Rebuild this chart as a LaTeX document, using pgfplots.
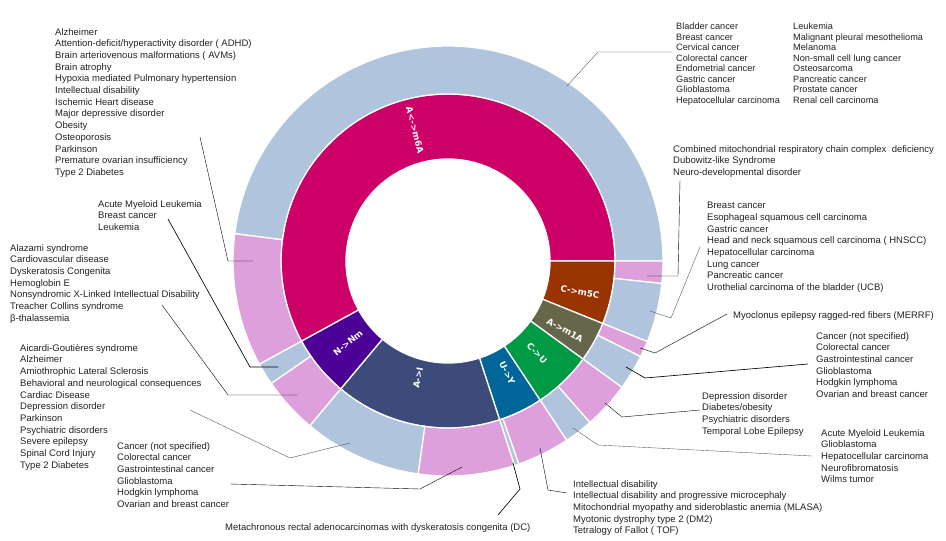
\documentclass[border=0pt]{standalone}
\usepackage{pgfplots}
\pgfplotsset{compat=1.18}
\usepackage{pgfplotstable}
\usepackage{fontspec}
\setmainfont{Liberation Sans}
\newfontfamily\ringfont{DejaVu Sans}

\definecolor{cblue}{HTML}{B0C4DE}
\definecolor{cpink}{HTML}{DDA0DD}
\definecolor{cmsixA}{HTML}{CC0066}
\definecolor{cmfiveC}{HTML}{993300}
\definecolor{cmoneA}{HTML}{66664A}
\definecolor{cCU}{HTML}{009944}
\definecolor{cUY}{HTML}{006699}
\definecolor{cAI}{HTML}{3D4B7A}
\definecolor{cNNm}{HTML}{4B0096}
\definecolor{lk}{HTML}{5A5A5A}
\definecolor{tx}{HTML}{222222}

% modifications: start/end angle of each wedge (degrees, counter-clockwise from east)
\pgfplotstableread{
a0     a1     col
208.7  0      cmsixA
0      -22    cmfiveC
-22    -36    cmoneA
-36    -56.5  cCU
-56.5  -72    cUY
-72    -130   cAI
-130   -151.3 cNNm
}\inner

% diseases: cancer (blue) and other (pink) for each modification
\pgfplotstableread{
a0     a1     col
172.7  0      cblue
208.7  172.7  cpink
0      -6     cpink
-6     -22    cblue
-22    -26.4  cpink
-26.4  -36    cblue
-36    -48.7  cpink
-48.7  -56.5  cblue
-56.5  -70.8  cpink
-70.8  -72    cblue
-72    -98    cpink
-98    -130   cblue
-130   -145.3 cpink
-145.3 -151.3 cblue
}\outer

\newcommand\drawring[3]{%
  \pgfplotstablegetrowsof{#1}%
  \pgfmathtruncatemacro\nrows{\pgfplotsretval-1}%
  \pgfplotsforeachungrouped \i in {0,...,\nrows}{%
    \pgfplotstablegetelem{\i}{a0}\of#1\let\sa\pgfplotsretval
    \pgfplotstablegetelem{\i}{a1}\of#1\let\ea\pgfplotsretval
    \pgfplotstablegetelem{\i}{col}\of#1\let\cc\pgfplotsretval
    \edef\wedge{\noexpand\fill[fill=\cc, draw=white, line width=1.3pt]
      ([shift={(axis cs:448,261)}]\sa:#2pt) arc[start angle=\sa, end angle=\ea, radius=#2pt]
      -- ([shift={(axis cs:448,261)}]\ea:#3pt) arc[start angle=\ea, end angle=\sa, radius=#3pt] -- cycle;}%
    \wedge
  }%
}

\begin{document}
\begin{tikzpicture}[
  lst/.style={anchor=north west, inner sep=0pt, align=left, text=tx,
    font=\fontsize{9.5}{11.7}\selectfont},
  rl/.style={text=white, font=\ringfont\bfseries\fontsize{8.8}{10}\selectfont, inner sep=0pt},
]
\useasboundingbox (0,0) rectangle (946pt,541pt);
\begin{axis}[
  scale only axis, width=946pt, height=541pt,
  xmin=0, xmax=946, ymin=0, ymax=541, y dir=reverse,
  hide axis, clip=false,
  cycle list={{lk, solid, line width=0.65pt, mark=none}},
]
\drawring{\inner}{102}{167}
\drawring{\outer}{167}{215}

\node[rl, rotate=-75.5] at (axis cs:415,130) {A<->m6A};
\node[rl, rotate=-11]   at (axis cs:580,292) {C->m5C};
\node[rl, rotate=-29]   at (axis cs:565,330) {A->m1A};
\node[rl, rotate=-46]   at (axis cs:537,353) {C->U};
\node[rl, rotate=-64]   at (axis cs:507,373) {U->Y};
\node[rl, rotate=79]    at (axis cs:418,378) {A->I};
\node[rl, rotate=39.5]  at (axis cs:348,343) {N->Nm};

% leader lines
\addplot coordinates {(567,86) (598,52) (672,52)};
\addplot coordinates {(200,137) (228,261) (253,261)};
\addplot coordinates {(168,219) (250,367) (278,367)};
\addplot coordinates {(162,305) (228,395) (298,395)};
\addplot coordinates {(190,410) (290,458) (350,443)};
\addplot coordinates {(230,484) (420,489) (462,467)};
\addplot coordinates {(498,515) (520,489) (513,463)};
\addplot coordinates {(540,448) (548,490) (567,493)};
\addplot coordinates {(573,428) (598,445) (812,456)};
\addplot coordinates {(605,403) (622,417) (700,410)};
\addplot coordinates {(626,367) (645,378) (808,364)};
\addplot coordinates {(640,348) (655,353) (727,314)};
\addplot coordinates {(650,311) (671,318) (700,247)};
\addplot coordinates {(647,276) (678,276) (680,180)};

% disease lists
\node[lst, font=\fontsize{9.2}{10.5}\selectfont] at (axis cs:676,23) {Bladder cancer\\Breast cancer\\Cervical cancer\\Colorectal cancer\\Endometrial cancer\\Gastric cancer\\Glioblastoma\\Hepatocellular carcinoma};
\node[lst, font=\fontsize{9.2}{10.5}\selectfont] at (axis cs:793,23) {Leukemia\\Malignant pleural mesothelioma\\Melanoma\\Non-small cell lung cancer\\Osteosarcoma\\Pancreatic cancer\\Prostate cancer\\Renal cell carcinoma};
\node[lst] at (axis cs:55,28) {Alzheimer\\Attention-deficit/hyperactivity disorder ( ADHD)\\Brain arteriovenous malformations ( AVMs)\\Brain atrophy\\Hypoxia mediated Pulmonary hypertension\\Intellectual disability\\Ischemic Heart disease\\Major depressive disorder\\Obesity\\Osteoporosis\\Parkinson\\Premature ovarian insufficiency\\Type 2 Diabetes};
\node[lst] at (axis cs:673,145) {Combined mitochondrial respiratory chain complex \ deficiency\\Dubowitz-like Syndrome\\Neuro-developmental disorder};
\node[lst] at (axis cs:707,202) {Breast cancer\\Esophageal squamous cell carcinoma\\Gastric cancer\\Head and neck squamous cell carcinoma ( HNSCC)\\Hepatocellular carcinoma\\Lung cancer\\Pancreatic cancer\\Urothelial carcinoma of the bladder (UCB)};
\node[lst] at (axis cs:733,311) {Myoclonus epilepsy ragged-red fibers (MERRF)};
\node[lst] at (axis cs:816,332) {Cancer (not specified)\\Colorectal cancer\\Gastrointestinal cancer\\Glioblastoma\\Hodgkin lymphoma\\Ovarian and breast cancer};
\node[lst] at (axis cs:702,392) {Depression disorder\\Diabetes/obesity\\Psychiatric disorders\\Temporal Lobe Epilepsy};
\node[lst] at (axis cs:821,429) {Acute Myeloid Leukemia\\Glioblastoma\\Hepatocellular carcinoma\\Neurofibromatosis\\Wilms tumor};
\node[lst] at (axis cs:573,480) {Intellectual disability\\Intellectual disability and progressive microcephaly\\Mitochondrial myopathy and sideroblastic anemia (MLASA)\\Myotonic dystrophy type 2 (DM2)\\Tetralogy of Fallot ( TOF)};
\node[lst] at (axis cs:225,523) {Metachronous rectal adenocarcinomas with dyskeratosis congenita (DC)};
\node[lst] at (axis cs:20,344) {Aicardi-Goutières syndrome\\Alzheimer\\Amiothrophic Lateral Sclerosis\\Behavioral and neurological consequences\\Cardiac Disease\\Depression disorder\\Parkinson\\Psychiatric disorders\\Severe epilepsy\\Spinal Cord Injury\\Type 2 Diabetes};
\node[lst] at (axis cs:117,442) {Cancer (not specified)\\Colorectal cancer\\Gastrointestinal cancer\\Glioblastoma\\Hodgkin lymphoma\\Ovarian and breast cancer};
\node[lst] at (axis cs:98,200) {Acute Myeloid Leukemia\\Breast cancer\\Leukemia};
\node[lst] at (axis cs:10,244) {Alazami syndrome\\Cardiovascular disease\\Dyskeratosis Congenita\\Hemoglobin E\\Nonsyndromic X-Linked Intellectual Disability\\Treacher Collins syndrome\\β-thalassemia};
\end{axis}
\end{tikzpicture}
\end{document}
